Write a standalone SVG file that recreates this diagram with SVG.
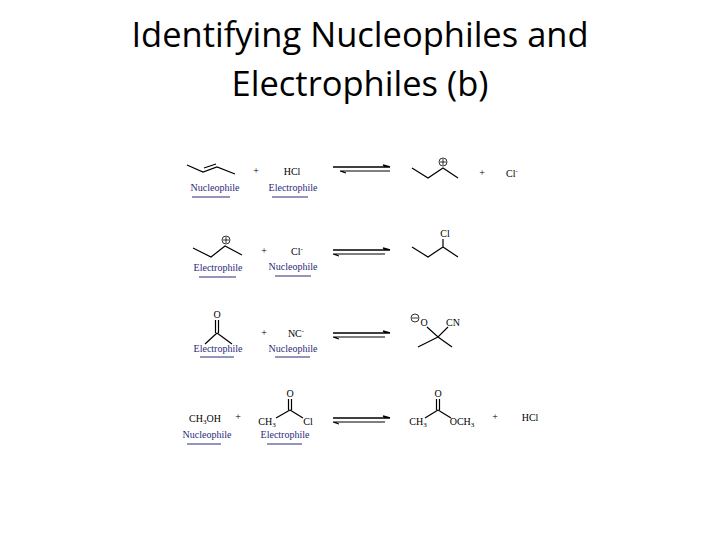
<svg xmlns="http://www.w3.org/2000/svg" width="720" height="540" viewBox="0 0 720 540">
<style>
.t{font-family:"Open Sans","Liberation Sans",sans-serif;font-size:34.5px;fill:#000;text-anchor:middle}
.c{font-family:"Liberation Serif",serif;font-size:10px;fill:#000;text-anchor:middle}
.l{font-family:"Liberation Serif",serif;font-size:10px;fill:#2a2a7a;text-anchor:middle}
.b{stroke:#000;stroke-width:1.2;fill:none}
.u{stroke:#2a2a7a;stroke-width:1.2}
.a{stroke:#000;stroke-width:1.6;fill:none}
.ch{fill:none;stroke:#000;stroke-width:0.8}
</style>
<rect width="720" height="540" fill="#fff"/>
<text class="t" x="360" y="47">Identifying Nucleophiles and</text>
<text class="t" x="360" y="96">Electrophiles (b)</text>
<g id="connectors">
<g id="eq1"><path class="a" d="M333 167H390M383 165L390 167"/><path class="b" d="M340 171H390M340 171L346 173"/></g>
<g id="eq2"><path class="a" d="M333 250H390M383 248L390 250"/><path class="b" d="M333 254H385M333 254L339 256"/></g>
<g id="eq3"><path class="a" d="M333 333H390M383 331L390 333"/><path class="b" d="M333 337H385M333 337L339 339"/></g>
<g id="eq4"><path class="a" d="M333 418H390M383 416L390 418"/><path class="b" d="M333 422H385M333 422L339 424"/></g>
</g>
<g id="row1">
<path class="b" d="M187 165L203 172L217 167L235 174M204 168L216 164"/>
<text class="c" x="256" y="174">+</text>
<text class="c" x="292" y="175">HCl</text>
<text class="l" x="215" y="191">Nucleophile</text><path class="u" d="M192 197H230"/>
<text class="l" x="293" y="191">Electrophile</text><path class="u" d="M272 197H308"/>
<path class="b" d="M412 168L428 178L443 168L458 178"/>
<circle class="ch" cx="443" cy="162" r="4"/><path class="ch" d="M440 162H446M443 159V165"/>
<text class="c" x="482" y="176">+</text>
<text class="c" x="512" y="177">Cl<tspan font-size="7" dy="-4">-</tspan></text>
</g>
<g id="row2">
<path class="b" d="M193 248L211 257L225 246L242 255"/>
<circle class="ch" cx="226" cy="240" r="4"/><path class="ch" d="M223 240H229M226 237V243"/>
<text class="c" x="264" y="254">+</text>
<text class="c" x="297" y="255">Cl<tspan font-size="7" dy="-4">-</tspan></text>
<text class="l" x="218" y="271">Electrophile</text><path class="u" d="M199 277H236"/>
<text class="l" x="293" y="270">Nucleophile</text><path class="u" d="M275 276H311"/>
<path class="b" d="M412 247L428 257L443 247L458 257M443 247V239"/>
<text class="c" x="445" y="237">Cl</text>
</g>
<g id="row3">
<text class="c" x="217" y="318">O</text>
<path class="b" d="M215.5 320V333M218.5 320V333M217 333L205 344M217 333L232 344"/>
<text class="c" x="264" y="336">+</text>
<text class="c" x="296" y="337">NC<tspan font-size="7" dy="-4">-</tspan></text>
<text class="l" x="218" y="352">Electrophile</text><path class="u" d="M200 357H234"/>
<text class="l" x="293" y="352">Nucleophile</text><path class="u" d="M275 357H310"/>
<circle class="ch" cx="415" cy="318" r="4"/><path class="ch" d="M412 318H418"/>
<text class="c" x="424" y="326">O</text>
<text class="c" x="453" y="326">CN</text>
<path class="b" d="M427 327L438 337L448 327M438 337L418 347M438 337L452 347"/>
</g>
<g id="row4">
<text class="c" x="205" y="422">CH<tspan font-size="7" dy="2">3</tspan><tspan dy="-2">OH</tspan></text>
<text class="c" x="238" y="420">+</text>
<text class="c" x="267" y="425">CH<tspan font-size="7" dy="2">3</tspan></text>
<text class="c" x="290" y="397">O</text>
<path class="b" d="M288.5 399V410M291.5 399V410M290 410L276 418M290 410L303 418"/>
<text class="c" x="308" y="425">Cl</text>
<text class="l" x="207" y="438">Nucleophile</text><path class="u" d="M187 444H221"/>
<text class="l" x="285" y="438">Electrophile</text><path class="u" d="M267 444H302"/>
<text class="c" x="418" y="425">CH<tspan font-size="7" dy="2">3</tspan></text>
<text class="c" x="438" y="397">O</text>
<path class="b" d="M436.5 399V410M439.5 399V410M438 410L425 418M438 410L451 418"/>
<text class="c" x="462" y="425">OCH<tspan font-size="7" dy="2">3</tspan></text>
<text class="c" x="495" y="420">+</text>
<text class="c" x="530" y="421">HCl</text>
</g>
</svg>
